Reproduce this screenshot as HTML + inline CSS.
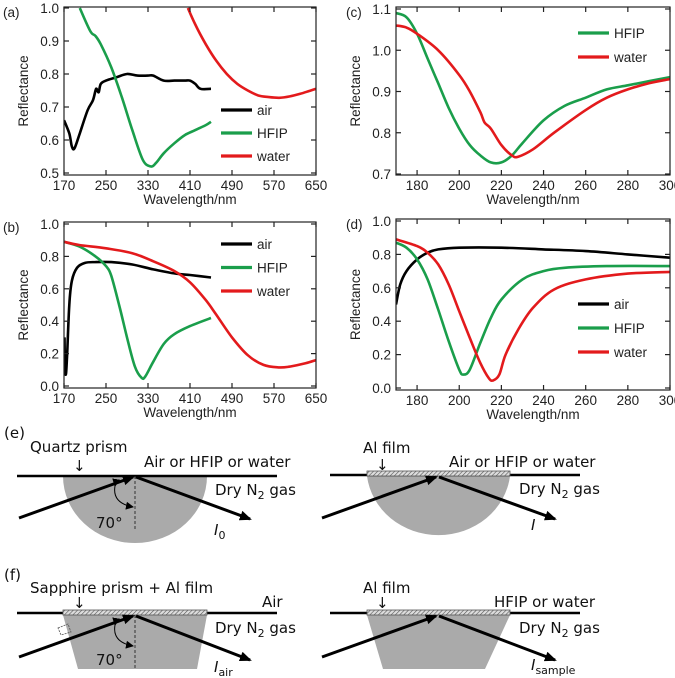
<!DOCTYPE html>
<html><head><meta charset="utf-8"><style>
html,body{margin:0;padding:0;background:#fff;}
svg{display:block;font-family:"Liberation Sans",Arial,sans-serif;}
.tk{font-size:13.5px;fill:#222;}
.dg{font-family:"DejaVu Sans","Liberation Sans",sans-serif;font-size:15px;fill:#111;}
</style></head><body>
<svg id="root" width="675" height="678" viewBox="0 0 675 678" xmlns="http://www.w3.org/2000/svg">
<defs>
<pattern id="hatch" width="3" height="3" patternUnits="userSpaceOnUse" patternTransform="rotate(45)">
<rect width="3" height="3" fill="#ddd"/><line x1="0" y1="0" x2="0" y2="3" stroke="#555" stroke-width="1.2"/></pattern>
<marker id="ah" markerWidth="8" markerHeight="8" refX="7" refY="4" orient="auto" markerUnits="userSpaceOnUse"><path d="M0,0 L8,4 L0,8 Z" fill="#000"/></marker>
<marker id="ah2" markerWidth="12" markerHeight="10" refX="10" refY="5" orient="auto" markerUnits="userSpaceOnUse"><path d="M0,0 L12,5 L0,10 Z" fill="#000"/></marker>
</defs>
<g id="charts"></g>

<g>
<text x="4" y="438" class="dg">(e)</text>
<path d="M63,476 A72,67 0 0 0 207,476 Z" fill="#aaa"/>
<line x1="17" y1="476" x2="277" y2="476" stroke="#000" stroke-width="2.5"/>
<line x1="135" y1="476" x2="135" y2="530" stroke="#333" stroke-width="1" stroke-dasharray="3,2"/>
<line x1="19" y1="518" x2="133" y2="477" stroke="#000" stroke-width="3" marker-end="url(#ah2)"/>
<line x1="136" y1="477" x2="250" y2="519" stroke="#000" stroke-width="3" marker-end="url(#ah2)"/>
<path d="M115,486 Q112,503 133,507" fill="none" stroke="#000" stroke-width="1" marker-start="url(#ah)" marker-end="url(#ah)"/>
<text x="96" y="528" class="dg" font-size="16">70°</text>
<text x="30" y="452" class="dg">Quartz prism</text>
<text x="73" y="471" class="dg" font-size="13">↓</text>
<text x="144" y="467" class="dg">Air or HFIP or water</text>
<text x="215" y="495" class="dg">Dry N<tspan font-size="11" dy="4">2</tspan><tspan dy="-4"> gas</tspan></text>
<text x="214" y="535" class="dg" font-style="italic">I<tspan font-style="normal" font-size="11" dy="4">0</tspan></text>
</g>
<g>
<path d="M367,476 A72,67 0 0 0 510,476 Z" fill="#aaa"/>
<line x1="330" y1="475" x2="580" y2="475" stroke="#000" stroke-width="2.5"/>
<rect x="367" y="471" width="143" height="5" fill="url(#hatch)" stroke="#555" stroke-width="0.8"/>
<line x1="322" y1="518" x2="436" y2="477" stroke="#000" stroke-width="3" marker-end="url(#ah2)"/>
<line x1="439" y1="477" x2="555" y2="519" stroke="#000" stroke-width="3" marker-end="url(#ah2)"/>
<text x="363" y="453" class="dg">Al film</text>
<text x="376" y="470" class="dg" font-size="13">↓</text>
<text x="449" y="467" class="dg">Air or HFIP or water</text>
<text x="519" y="494" class="dg">Dry N<tspan font-size="11" dy="4">2</tspan><tspan dy="-4"> gas</tspan></text>
<text x="531" y="530" class="dg" font-style="italic">I</text>
</g>
<g>
<text x="4" y="580" class="dg">(f)</text>
<path d="M63,615 L207,615 L197,669 L78,669 Z" fill="#aaa"/>
<line x1="17" y1="613" x2="277" y2="613" stroke="#000" stroke-width="2.5"/>
<rect x="63" y="610" width="144" height="5" fill="url(#hatch)" stroke="#555" stroke-width="0.8"/>
<path d="M58,628 L68,624 L71,632 L61,635 Z" fill="none" stroke="#555" stroke-width="0.8" stroke-dasharray="2,1"/>
<line x1="135" y1="615" x2="135" y2="669" stroke="#333" stroke-width="1" stroke-dasharray="3,2"/>
<line x1="19" y1="657" x2="133" y2="616" stroke="#000" stroke-width="3" marker-end="url(#ah2)"/>
<line x1="136" y1="616" x2="250" y2="660" stroke="#000" stroke-width="3" marker-end="url(#ah2)"/>
<path d="M115,625 Q112,642 133,646" fill="none" stroke="#000" stroke-width="1" marker-start="url(#ah)" marker-end="url(#ah)"/>
<text x="96" y="665" class="dg" font-size="16">70°</text>
<text x="30" y="593" class="dg">Sapphire prism + Al film</text>
<text x="73" y="608" class="dg" font-size="13">↓</text>
<text x="262" y="607" class="dg">Air</text>
<text x="215" y="633" class="dg">Dry N<tspan font-size="11" dy="4">2</tspan><tspan dy="-4"> gas</tspan></text>
<text x="214" y="672" class="dg" font-style="italic">I<tspan font-style="normal" font-size="11" dy="4">air</tspan></text>
</g>
<g>
<path d="M367,615 L510,615 L485,669 L383,669 Z" fill="#aaa"/>
<line x1="330" y1="613" x2="580" y2="613" stroke="#000" stroke-width="2.5"/>
<rect x="367" y="610" width="143" height="5" fill="url(#hatch)" stroke="#555" stroke-width="0.8"/>
<line x1="322" y1="657" x2="436" y2="616" stroke="#000" stroke-width="3" marker-end="url(#ah2)"/>
<line x1="439" y1="616" x2="555" y2="660" stroke="#000" stroke-width="3" marker-end="url(#ah2)"/>
<text x="363" y="593" class="dg">Al film</text>
<text x="376" y="608" class="dg" font-size="13">↓</text>
<text x="494" y="607" class="dg">HFIP or water</text>
<text x="519" y="633" class="dg">Dry N<tspan font-size="11" dy="4">2</tspan><tspan dy="-4"> gas</tspan></text>
<text x="531" y="670" class="dg" font-style="italic">I<tspan font-style="normal" font-size="11" dy="4">sample</tspan></text>
</g>
</svg>
<script>
const aAirX=[170,180,185,190,200,215,225,230,232,236,240,250,270,290,310,330,340,360,380,400,410,420,430,450];
const aAirY=[0.66,0.62,0.58,0.575,0.62,0.69,0.72,0.75,0.755,0.745,0.77,0.78,0.79,0.80,0.795,0.795,0.795,0.78,0.78,0.78,0.78,0.77,0.755,0.755];
const aHfipX=[200,220,230,240,260,280,300,320,335,345,360,380,400,420,440,450];
const aHfipY=[1.0,0.93,0.915,0.89,0.82,0.73,0.63,0.54,0.52,0.53,0.56,0.59,0.615,0.63,0.645,0.655];
const aWaterX=[406,420,440,460,480,500,520,540,560,580,600,620,640,650];
const aWaterY=[1.0,0.95,0.89,0.84,0.80,0.77,0.75,0.735,0.73,0.728,0.732,0.74,0.75,0.755];
const bAirX=[171,172,174,176,180,185,195,210,230,260,300,340,380,410,450];
const bAirY=[0.3,0.1,0.08,0.2,0.5,0.65,0.73,0.76,0.765,0.765,0.75,0.72,0.695,0.685,0.67];
const bHfipX=[170,200,230,250,260,275,290,305,318,325,340,360,380,410,450];
const bHfipY=[0.89,0.86,0.80,0.74,0.68,0.5,0.3,0.12,0.05,0.06,0.15,0.26,0.32,0.37,0.42];
const bWaterX=[170,200,250,300,340,380,410,440,460,490,520,550,580,600,630,650];
const bWaterY=[0.89,0.87,0.85,0.82,0.77,0.71,0.64,0.53,0.44,0.30,0.19,0.13,0.115,0.12,0.14,0.16];
const cHfipX=[170,175,180,185,190,195,200,205,210,215,220,225,230,240,250,260,270,280,290,300];
const cHfipY=[1.09,1.08,1.04,0.98,0.92,0.86,0.81,0.77,0.745,0.728,0.728,0.745,0.775,0.83,0.865,0.885,0.905,0.915,0.925,0.935];
const cWaterX=[170,175,180,190,200,205,210,212,215,220,225,228,235,245,260,270,280,290,300];
const cWaterY=[1.06,1.055,1.04,1.0,0.94,0.9,0.85,0.825,0.81,0.77,0.745,0.742,0.76,0.8,0.855,0.885,0.905,0.92,0.93];
const dAirX=[170,172,175,180,185,190,200,220,240,260,280,300];
const dAirY=[0.5,0.62,0.7,0.77,0.81,0.83,0.84,0.84,0.83,0.82,0.80,0.78];
const dHfipX=[170,175,180,185,190,195,200,202,205,210,215,220,230,240,250,270,300];
const dHfipY=[0.87,0.84,0.77,0.65,0.47,0.28,0.11,0.08,0.11,0.27,0.42,0.53,0.65,0.70,0.72,0.73,0.73];
const dWaterX=[170,180,185,190,195,200,205,210,214,216,219,222,228,235,245,260,280,300];
const dWaterY=[0.89,0.85,0.81,0.74,0.62,0.46,0.30,0.15,0.06,0.045,0.08,0.2,0.35,0.48,0.59,0.65,0.685,0.695];
const abXTicks=[170,250,330,410,490,570,650];
const cdXTicks=[180,200,220,240,260,280,300];
const aYTicks=[0.5,0.6,0.7,0.8,0.9,1.0];
const bdYTicks=[0,0.2,0.4,0.6,0.8,1.0];
const cYTicks=[0.7,0.8,0.9,1.0,1.1];

const NS='http://www.w3.org/2000/svg';
const COL={air:'#000',HFIP:'#1a9e4b',water:'#e31a1c'};
const root=document.getElementById('charts');
function mk(tag,attrs,parent){const e=document.createElementNS(NS,tag);for(const k in attrs)e.setAttribute(k,attrs[k]);parent.appendChild(e);return e;}
function smooth(P){
  let d='M'+P[0][0].toFixed(1)+','+P[0][1].toFixed(1);
  for(let i=0;i<P.length-1;i++){
    const p0=P[i-1]||P[i],p1=P[i],p2=P[i+1],p3=P[i+2]||P[i+1];
    const c1=[p1[0]+(p2[0]-p0[0])/6,p1[1]+(p2[1]-p0[1])/6];
    const c2=[p2[0]-(p3[0]-p1[0])/6,p2[1]-(p3[1]-p1[1])/6];
    d+=' C'+c1.map(v=>v.toFixed(1)).join(',')+' '+c2.map(v=>v.toFixed(1)).join(',')+' '+p2[0].toFixed(1)+','+p2[1].toFixed(1);
  }
  return d;
}
function panel(p){
  const g=mk('g',{},root);
  
  
  const sx=v=>p.x0+(v-p.xmin)/(p.xmax-p.xmin)*(p.x1-p.x0);
  const sy=v=>p.y0+(v-p.ymin)/(p.ymax-p.ymin)*(p.y1-p.y0);
  const cid='clip-'+p.id;
  const cp=mk('clipPath',{id:cid},g);
  mk('rect',{x:p.x0,y:p.fy0,width:p.x1-p.x0,height:p.fy1-p.fy0},cp);
  p.series.forEach(s=>{
    const P=s.x.map((v,i)=>[sx(v),sy(s.y[i])]);
    const l=mk('path',{d:smooth(P),fill:'none',stroke:COL[s.n],'stroke-width':2.6,'stroke-linejoin':'round','clip-path':'url(#'+cid+')'},g);
    
    
  });
  const fr=mk('rect',{x:p.x0,y:p.fy0,width:p.x1-p.x0,height:p.fy1-p.fy0,fill:'none',stroke:'#222','stroke-width':1.2},g);
  
  
  p.xt.forEach(v=>{const X=sx(v);
    mk('line',{x1:X,y1:p.fy1,x2:X,y2:p.fy1-5,stroke:'#222','stroke-width':1.2},g);
    mk('line',{x1:X,y1:p.fy0,x2:X,y2:p.fy0+5,stroke:'#222','stroke-width':1.2},g);
    const t=mk('text',{x:X,y:p.fy1+15,'text-anchor':'middle',class:'tk'},g);t.textContent=v;
    
    
  });
  p.yt.forEach(v=>{const Y=sy(v);
    mk('line',{x1:p.x0,y1:Y,x2:p.x0+5,y2:Y,stroke:'#222','stroke-width':1.2},g);
    mk('line',{x1:p.x1,y1:Y,x2:p.x1-5,y2:Y,stroke:'#222','stroke-width':1.2},g);
    const t=mk('text',{x:p.x0-5,y:Y+5,'text-anchor':'end',class:'tk'},g);t.textContent=v.toFixed(1);
    
    
  });
  const xt=mk('text',{x:(p.x0+p.x1)/2,y:p.fy1+29,'text-anchor':'middle',class:'tk'},g);xt.textContent='Wavelength/nm';
  
  
  const cy=(p.fy0+p.fy1)/2, cx=p.x0-36;
  const yt=mk('text',{x:cx,y:cy,'text-anchor':'middle',class:'tk',transform:`rotate(-90 ${cx} ${cy})`},g);yt.textContent='Reflectance';
  
  
  const pl=mk('text',{x:p.lx,y:p.fy0+10,class:'tk','font-size':'14'},g);pl.textContent='('+p.id+')';
  
  
  p.series.forEach((s,i)=>{const Y=p.legY+i*p.legDy;
    const le=mk('g',{},g);
    
    
    mk('line',{x1:p.legX,y1:Y,x2:p.legX+31,y2:Y,stroke:COL[s.n],'stroke-width':3.2},le);
    const t=mk('text',{x:p.legX+36,y:Y+5,class:'tk','font-size':'15'},le);t.textContent=s.n;
  });
}
panel({id:'a',x0:64,x1:316,xmin:170,xmax:650,y0:173,y1:8,ymin:0.5,ymax:1.0,fy0:7,fy1:175,xt:abXTicks,yt:aYTicks,lx:3,legX:221,legY:110,legDy:23,
  series:[{n:'air',x:aAirX,y:aAirY},{n:'HFIP',x:aHfipX,y:aHfipY},{n:'water',x:aWaterX,y:aWaterY}]});
panel({id:'b',x0:64,x1:316,xmin:170,xmax:650,y0:386,y1:224,ymin:0,ymax:1.0,fy0:222,fy1:388,xt:abXTicks,yt:bdYTicks,lx:3,legX:221,legY:244,legDy:23.5,
  series:[{n:'air',x:bAirX,y:bAirY},{n:'HFIP',x:bHfipX,y:bHfipY},{n:'water',x:bWaterX,y:bWaterY}]});
panel({id:'c',x0:396,x1:670,xmin:170,xmax:300,y0:174,y1:9,ymin:0.7,ymax:1.1,fy0:7,fy1:175,xt:cdXTicks,yt:cYTicks,lx:346,legX:578,legY:33,legDy:24,
  series:[{n:'HFIP',x:cHfipX,y:cHfipY},{n:'water',x:cWaterX,y:cWaterY}]});
panel({id:'d',x0:396,x1:670,xmin:170,xmax:300,y0:388,y1:221,ymin:0,ymax:1.0,fy0:219,fy1:390,xt:cdXTicks,yt:bdYTicks,lx:346,legX:578,legY:304,legDy:24,
  series:[{n:'air',x:dAirX,y:dAirY},{n:'HFIP',x:dHfipX,y:dHfipY},{n:'water',x:dWaterX,y:dWaterY}]});
</script>
</body></html>
